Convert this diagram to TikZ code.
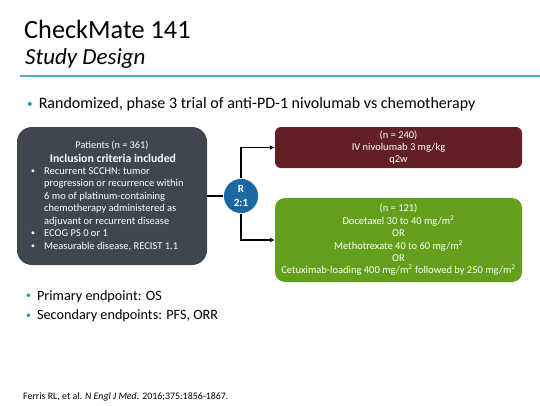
\documentclass[tikz,border=0pt]{standalone}
\usepackage{fontspec}
\setmainfont{Carlito}
\usetikzlibrary{arrows.meta}
\definecolor{boxgray}{HTML}{3E474F}
\definecolor{boxred}{HTML}{632024}
\definecolor{boxgreen}{HTML}{62A01C}
\definecolor{rblue}{HTML}{1B68A3}
\definecolor{rule}{HTML}{4BACC6}
\definecolor{bul}{HTML}{2A93AE}
\newcommand{\tb}{\textcolor{bul}{\raisebox{0.09em}{\scalebox{0.7}{\textbullet}}}}
\newcommand{\wb}{\raisebox{0.07em}{\scalebox{0.75}{\textbullet}}}
\begin{document}
\begin{tikzpicture}[x=1pt,y=-1pt,
  txt/.style={inner sep=0pt,anchor=base west},
  arm/.style={rounded corners=6pt,minimum width=247pt,text=white,align=center,inner sep=0pt,
    font=\fontsize{10.5}{12.4}\selectfont},
  conn/.style={line width=1.4pt,-{Latex[length=5pt,width=5pt]}}]
\useasboundingbox (0,0) rectangle (540,405);
\node[txt,font=\fontsize{26.3}{30}\selectfont] (title) at (24,38) {CheckMate 141};
\node[txt,font=\fontsize{23}{26}\selectfont\itshape] (sub) at (25,64) {Study Design};
\draw[rule,line width=1.3pt] (20,76) -- (540,76);
\node[txt,font=\fontsize{16}{19}\selectfont] (b1) at (27,108.5) {\tb\hspace{6pt}Randomized, phase 3 trial of anti-PD-1 nivolumab vs chemotherapy};
% patients box
\node[fill=boxgray,rounded corners=15pt,minimum width=190pt,minimum height=138pt,inner sep=0pt] (pat) at (112,196) {};
\node[txt,anchor=base,text=white,font=\fontsize{10.3}{12}\selectfont] (p1) at (112,148.5) {Patients (n = 361)};
\node[txt,anchor=base,text=white,font=\fontsize{11.8}{13}\selectfont\bfseries] (p2) at (113,162) {Inclusion criteria included};
\node[txt,anchor=north west,text=white,align=left,font=\fontsize{10.5}{12.5}\selectfont] (p3) at (31,167)
{\makebox[13pt][l]{\wb}Recurrent SCCHN: tumor\\
\hspace*{13pt}progression or recurrence within\\
\hspace*{13pt}6 mo of platinum-containing\\
\hspace*{13pt}chemotherapy administered as\\
\hspace*{13pt}adjuvant or recurrent disease\\
\makebox[13pt][l]{\wb}ECOG PS 0 or 1\\
\makebox[13pt][l]{\wb}Measurable disease, RECIST 1.1};
% randomization
\node[circle,fill=rblue,draw=white,line width=0.6pt,minimum size=35pt,inner sep=0pt,text=white,align=center,
  font=\fontsize{11}{13.5}\selectfont\bfseries] (R) at (241,196) {R\\2:1};
% arms
\node[arm,fill=boxred,minimum height=41pt] (nivo) at (398.5,147.5) {(n = 240)\\IV nivolumab 3 mg/kg\\q2w};
\node[arm,fill=boxgreen,rounded corners=10pt,minimum height=84pt] (chemo) at (398.5,240) {(n = 121)\\Docetaxel 30 to 40 mg/m\textsuperscript{2}\\OR\\Methotrexate 40 to 60 mg/m\textsuperscript{2}\\OR\\Cetuximab-loading 400 mg/m\textsuperscript{2} followed by 250 mg/m\textsuperscript{2}};
\draw[line width=1.4pt] (pat.east) -- (R.west);
\draw[conn] (R.north) |- (nivo.west);
\draw[conn] (R.south) |- (chemo.west);
% bottom bullets
\node[txt,font=\fontsize{14.2}{17}\selectfont] (b2) at (26,300) {\tb\hspace{6pt}Primary endpoint: OS};
\node[txt,font=\fontsize{14.2}{17}\selectfont] (b3) at (26,319.5) {\tb\hspace{6pt}Secondary endpoints: PFS, ORR};
\node[txt,font=\fontsize{9.9}{12}\selectfont] (cite) at (23,399) {Ferris RL, et al. \textit{N Engl J Med.} 2016;375:1856-1867.};
\end{tikzpicture}
\end{document}
